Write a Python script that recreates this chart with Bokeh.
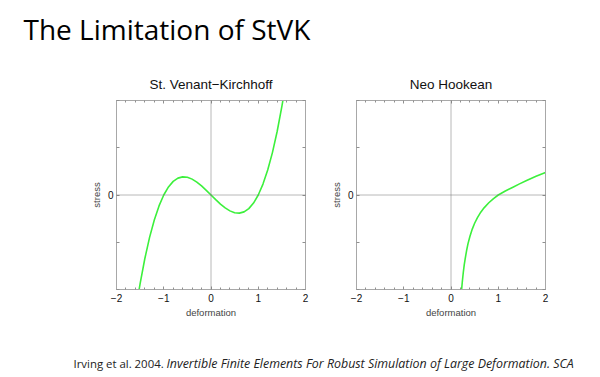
from bokeh.plotting import figure
from bokeh.models import LinearAxis, FixedTicker, Span, Label
from bokeh.layouts import column, row
from bokeh.embed import file_html
from bokeh.resources import INLINE

# ---------------- data ----------------
slide_title = "The Limitation of StVK"
citation_regular = "Irving et al. 2004."
citation_italic = "Invertible Finite Elements For Robust Simulation of Large Deformation. SCA"

titles = ["St. Venant\u2212Kirchhoff", "Neo Hookean"]
x_label = "deformation"
y_label = "stress"

x_ticks = [-2, -1, 0, 1, 2]
x_tick_labels = ["\u22122", "\u22121", "0", "1", "2"]
y_ticks = [-2, -1, 0, 1, 2]
y_tick_labels = ["", "", "0", "", ""]

stvk_x = [-1.53, -1.5, -1.4, -1.3, -1.2, -1.1, -1.0, -0.9, -0.8, -0.7, -0.6, -0.5,
          -0.4, -0.3, -0.2, -0.1, 0.0, 0.1, 0.2, 0.3, 0.4, 0.5, 0.6, 0.7, 0.8, 0.9,
          1.0, 1.1, 1.2, 1.3, 1.4, 1.5, 1.53]
stvk_y = [-2.05, -1.875, -1.344, -0.897, -0.528, -0.231, 0.0, 0.171, 0.288, 0.357,
          0.384, 0.375, 0.336, 0.273, 0.192, 0.099, 0.0, -0.099, -0.192, -0.273,
          -0.336, -0.375, -0.384, -0.357, -0.288, -0.171, 0.0, 0.231, 0.528, 0.897,
          1.344, 1.875, 2.05]

neo_x = [0.22, 0.24, 0.26, 0.28, 0.30, 0.33, 0.36, 0.40, 0.45, 0.50, 0.56, 0.63,
         0.70, 0.80, 0.90, 1.00, 1.15, 1.30, 1.45, 1.60, 1.80, 2.00]
neo_y = [-2.05, -1.83, -1.64, -1.48, -1.35, -1.175, -1.03, -0.877, -0.722, -0.598,
         -0.478, -0.364, -0.272, -0.164, -0.075, 0.0, 0.085, 0.16, 0.235, 0.305,
         0.395, 0.478]

# ---------------- style ----------------
FRAME = "#a8a8a8"
TICK = "#909090"
GREEN = "#3cf03c"
FONT = "Liberation Sans"
minor_x = [v / 10 for v in range(-20, 21, 2) if v % 10 != 0]


def style_axis(ax, ticks, labels, minor, show_labels):
    ax.ticker = FixedTicker(ticks=ticks, minor_ticks=minor)
    ax.axis_line_color = FRAME
    ax.major_tick_line_color = TICK
    ax.minor_tick_line_color = TICK
    ax.major_tick_in = 3
    ax.major_tick_out = 0
    ax.minor_tick_in = 2
    ax.minor_tick_out = 0
    if show_labels:
        ax.major_label_overrides = {t: l for t, l in zip(ticks, labels)}
        ax.major_label_text_font = FONT
        ax.major_label_text_font_size = "10px"
        ax.major_label_text_color = "#111111"
    else:
        ax.major_label_overrides = {t: "" for t in ticks}
        ax.major_label_text_font_size = "0px"
        ax.major_label_standoff = 0


def make_plot(title, xs, ys, width, left, right):
    p = figure(width=width, height=268, x_range=(-2, 2), y_range=(-2, 2),
               output_backend="svg", toolbar_location=None,
               min_border_left=left, min_border_right=right,
               min_border_top=38, min_border_bottom=41)
    p.title.text = title
    p.title.align = "center"
    p.title.text_font = FONT
    p.title.text_font_size = "13.5px"
    p.title.text_font_style = "normal"
    p.title.text_color = "#111111"
    p.title.standoff = 18
    p.xgrid.visible = False
    p.ygrid.visible = False
    p.outline_line_color = FRAME

    style_axis(p.xaxis[0], x_ticks, x_tick_labels, minor_x, True)
    p.xaxis[0].axis_label = x_label
    p.xaxis[0].axis_label_text_font = FONT
    p.xaxis[0].axis_label_text_font_size = "9.5px"
    p.xaxis[0].axis_label_text_font_style = "normal"
    p.xaxis[0].axis_label_standoff = 2
    p.xaxis[0].major_label_standoff = 4

    style_axis(p.yaxis[0], y_ticks, y_tick_labels, [], True)
    p.yaxis[0].axis_label = y_label
    p.yaxis[0].axis_label_text_font = FONT
    p.yaxis[0].axis_label_text_font_size = "9.5px"
    p.yaxis[0].axis_label_text_font_style = "normal"
    p.yaxis[0].axis_label_standoff = 3
    p.yaxis[0].major_label_standoff = 3

    top = LinearAxis()
    style_axis(top, x_ticks, x_tick_labels, minor_x, False)
    p.add_layout(top, "above")
    rgt = LinearAxis()
    style_axis(rgt, y_ticks, y_tick_labels, [], False)
    p.add_layout(rgt, "right")

    p.add_layout(Span(location=0, dimension="width", line_color="#707070",
                      line_dash="1 1", line_width=1))
    p.add_layout(Span(location=0, dimension="height", line_color="#707070",
                      line_dash="1 1", line_width=1))
    p.line(xs, ys, line_color=GREEN, line_width=1.6)
    return p


def blank(width, height):
    p = figure(width=width, height=height, x_range=(0, width), y_range=(0, height),
               output_backend="svg", toolbar_location=None,
               x_axis_location=None, y_axis_location=None,
               min_border=0)
    p.xgrid.visible = False
    p.ygrid.visible = False
    p.outline_line_color = None
    return p


top = blank(600, 62)
top.add_layout(Label(x=23, y=34, x_units="screen", y_units="screen", text=slide_title,
                     text_font="Open Sans", text_font_size="28px", text_color="#000000",
                     text_baseline="alphabetic"))

p1 = make_plot(titles[0], stvk_x, stvk_y, 326, 116, 21)
p2 = make_plot(titles[1], neo_x, neo_y, 274, 30, 55)

bottom = blank(600, 47)
bottom.add_layout(Label(x=73, y=14, x_units="screen", y_units="screen", text=citation_regular,
                        text_font="Open Sans", text_font_size="11.4px", text_color="#222222",
                        text_baseline="alphabetic"))
bottom.add_layout(Label(x=166, y=14, x_units="screen", y_units="screen", text=citation_italic,
                        text_font="Open Sans", text_font_size="12.4px", text_font_style="italic",
                        text_color="#222222", text_baseline="alphabetic"))

layout = column(top, row(p1, p2), bottom)
open("out.html", "w").write(file_html(layout, INLINE))
